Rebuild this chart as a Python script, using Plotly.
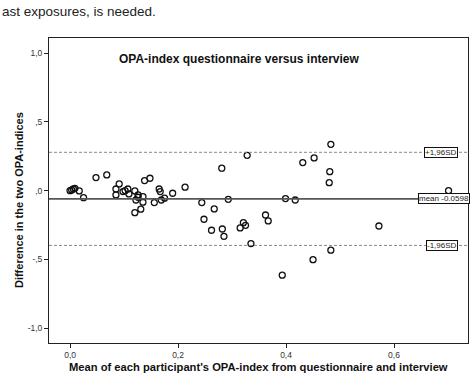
import plotly.graph_objects as go

# Bland-Altman data
x_mean = [0.000, 0.003, 0.006, 0.009, 0.017, 0.025, 0.048, 0.068, 0.085, 0.091,
          0.085, 0.098, 0.102, 0.107, 0.109, 0.120, 0.122, 0.126, 0.126, 0.135,
          0.135, 0.138, 0.148, 0.120, 0.131, 0.156, 0.165, 0.167, 0.169, 0.175,
          0.190, 0.213, 0.244, 0.267, 0.248, 0.262, 0.282, 0.285, 0.281, 0.293,
          0.328, 0.321, 0.325, 0.315, 0.335, 0.362, 0.367, 0.399, 0.417, 0.431,
          0.452, 0.450, 0.483, 0.481, 0.480, 0.483, 0.393, 0.572, 0.701]
y_diff = [0.000, 0.005, 0.012, 0.017, -0.002, -0.051, 0.095, 0.114, 0.012, 0.049,
          -0.031, -0.007, 0.000, 0.012, -0.024, -0.002, -0.068, -0.031, -0.048, -0.044,
          -0.084, 0.073, 0.090, -0.160, -0.135, -0.087, 0.012, -0.007, -0.068, -0.055,
          -0.019, 0.025, -0.087, -0.133, -0.208, -0.288, -0.279, -0.332, 0.163, -0.063,
          0.257, -0.233, -0.252, -0.271, -0.385, -0.177, -0.220, -0.058, -0.068, 0.204,
          0.238, -0.502, 0.337, 0.138, 0.058, -0.433, -0.615, -0.257, 0.000]

mean_diff = -0.0598
upper_loa = 0.2787
lower_loa = -0.3983

x_tickvals = [0.0, 0.2, 0.4, 0.6]
x_ticktext = ["0,0", "0,2", "0,4", "0,6"]
y_tickvals = [-1.0, -0.5, 0.0, 0.5, 1.0]
y_ticktext = ["-1,0", "-,5", ",0", ",5", "1,0"]

title_text = "OPA-index questionnaire versus interview"
x_title = "Mean of each participant's OPA-index from questionnaire and interview"
y_title = "Difference in the two OPA-indices"
label_upper = "+1,96SD"
label_mean = "mean -0.0598"
label_lower = "-1,96SD"
page_text = "ast exposures, is needed."

FONT = "Liberation Sans, Arial, sans-serif"

fig = go.Figure()
fig.add_trace(go.Scatter(
    x=x_mean, y=y_diff, mode="markers",
    marker=dict(symbol="circle-open", size=6, color="#111111", line=dict(width=1.3, color="#111111")),
    showlegend=False, hoverinfo="x+y"))

fig.add_hline(y=upper_loa, line=dict(color="#888888", width=1, dash="3px,2px"))
fig.add_hline(y=lower_loa, line=dict(color="#888888", width=1, dash="3px,2px"))
fig.add_hline(y=mean_diff, line=dict(color="#555555", width=1.6))

box = dict(bordercolor="#111111", borderwidth=1, bgcolor="white", borderpad=0,
           font=dict(family=FONT, size=8, color="#222222"), showarrow=False)
fig.add_annotation(x=0.718, y=upper_loa, xref="x", yref="y", xanchor="right", yanchor="middle",
                   text=label_upper, **box)
fig.add_annotation(x=1.004, y=mean_diff, xref="paper", yref="y", xanchor="right", yanchor="middle",
                   text=label_mean, **box)
fig.add_annotation(x=0.718, y=lower_loa, xref="x", yref="y", xanchor="right", yanchor="middle",
                   text=label_lower, **box)

# chart title inside plot
fig.add_annotation(x=0.162, y=0.93, xref="paper", yref="paper", xanchor="left", yanchor="middle",
                   text="<b>%s</b>" % title_text, showarrow=False,
                   font=dict(family=FONT, size=12, color="#111111"))
# axis titles
fig.add_annotation(x=0.5, y=-0.079, xref="paper", yref="paper", xanchor="center", yanchor="middle",
                   text="<b>%s</b>" % x_title, showarrow=False,
                   font=dict(family=FONT, size=11.2, color="#111111"))
fig.add_annotation(x=-0.073, y=0.47, xref="paper", yref="paper", xanchor="center", yanchor="middle",
                   text="<b>%s</b>" % y_title, showarrow=False, textangle=-90,
                   font=dict(family=FONT, size=11, color="#111111"))
# page text above chart
fig.add_annotation(x=-49/419, y=1 + 26/305, xref="paper", yref="paper", xanchor="left", yanchor="middle",
                   text=page_text, showarrow=False,
                   font=dict(family=FONT, size=13.5, color="#222222"))

axis_common = dict(showgrid=False, zeroline=False, showline=True, mirror=True,
                   linecolor="#222222", linewidth=1, ticks="outside", ticklen=4,
                   tickcolor="#222222", tickwidth=1,
                   tickfont=dict(family=FONT, size=8.5, color="#333333"))
fig.update_xaxes(range=[-0.039, 0.737], tickvals=x_tickvals, ticktext=x_ticktext, **axis_common)
fig.update_yaxes(range=[-1.108, 1.11], tickvals=y_tickvals, ticktext=y_ticktext, **axis_common)

fig.update_layout(width=474, height=386, margin=dict(l=49, r=6, t=38, b=43),
                  paper_bgcolor="white", plot_bgcolor="white", showlegend=False)

fig.write_html("out.html", config={"displayModeBar": False},
               post_script="document.body.style.margin='0px';document.body.style.overflow='hidden';")
